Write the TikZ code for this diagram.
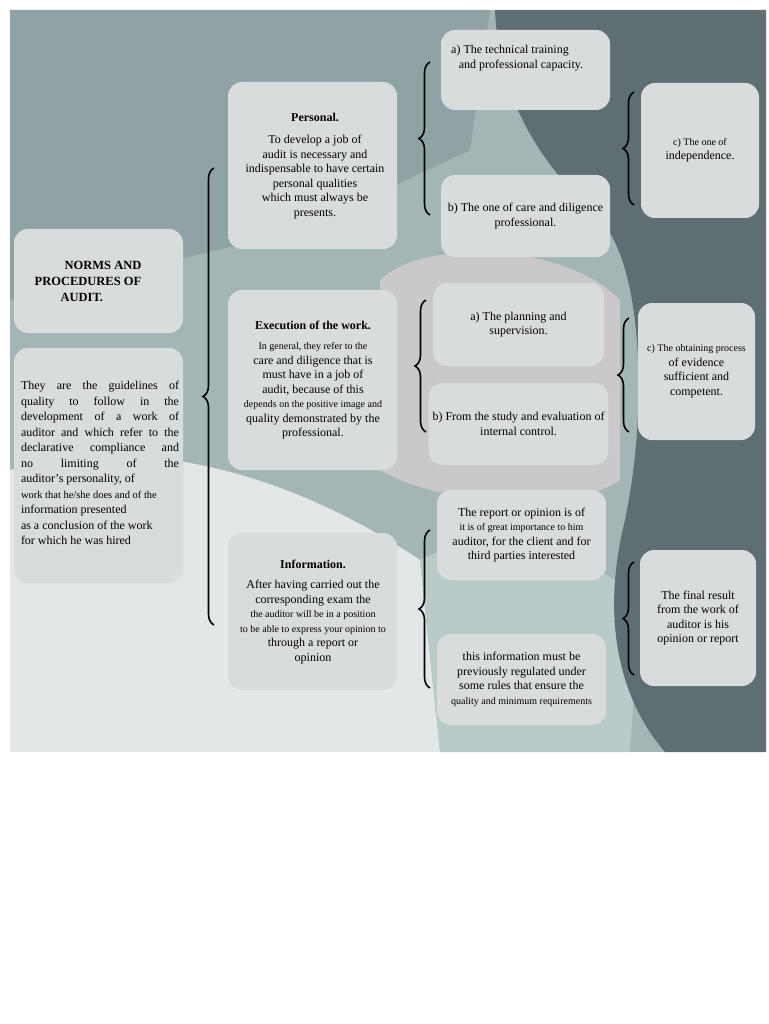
\documentclass[tikz,border=0pt]{standalone}
\usepackage{fontspec}
\setmainfont{Liberation Serif}
\usetikzlibrary{decorations.pathreplacing}
\definecolor{bgbase}{HTML}{A3B6B5}
\definecolor{bgdark}{HTML}{5E6E73}
\definecolor{bgmid}{HTML}{8FA3A5}
\definecolor{bglight}{HTML}{E3E7E8}
\definecolor{bgpink}{HTML}{CBC8CB}
\definecolor{bgteal}{HTML}{B9CBC8}
\definecolor{boxfill}{HTML}{D9DCDD}
\tikzset{
  card/.style={fill=boxfill, rounded corners=14pt, draw=none, align=center, font=\fontsize{12}{14.5}\selectfont, inner sep=4pt},
  txt/.style={align=center, font=\fontsize{12}{14.5}\selectfont},
  brc/.style={draw=black, line width=1.6pt, decorate, decoration={brace, amplitude=11pt}}
}
\newcommand{\sm}{\fontsize{10}{14.5}\selectfont}
\begin{document}
\begin{tikzpicture}[x=1pt,y=-1pt]
\useasboundingbox (0,0) rectangle (768,1024);
\fill[white] (0,0) rectangle (768,1024);
% background
\fill[bgbase] (10,10) rectangle (766,752);
\fill[bgmid] (10,10) -- (490,10) -- (470,150) -- (300,230) -- (10,300) -- cycle;
\fill[bglight] (10,470) .. controls (150,430) and (300,480) .. (420,560) -- (440,752) -- (10,752) -- cycle;
\fill[bgpink] (380,280) .. controls (420,240) and (560,240) .. (620,300) -- (620,480) .. controls (560,520) and (430,500) .. (380,470) -- cycle;
\fill[bgteal] (420,560) .. controls (500,520) and (600,560) .. (640,600) -- (630,752) -- (440,752) -- cycle;
\fill[bgdark] (495,10) -- (766,10) -- (766,752) -- (665,752) .. controls (620,700) and (600,620) .. (625,520) .. controls (650,400) and (640,260) .. (600,220) .. controls (560,180) and (500,120) .. (495,10) -- cycle;
% boxes
\node[card, minimum width=169pt, minimum height=104pt] (title) at (98.5,281) {};
\node[font=\fontsize{12.5}{16}\selectfont\bfseries, align=left] at (88,281) {\hspace*{30pt}NORMS AND\\PROCEDURES OF\\\hspace*{26pt}AUDIT.};
\node[card, minimum width=169pt, minimum height=235pt] (desc) at (98.5,465.5) {};
\node[text width=158pt, align=justify, font=\fontsize{12}{15.5}\selectfont] at (100,463) {They are the guidelines of\linebreak quality to follow in the\linebreak development of a work of\linebreak auditor and which refer to the\linebreak declarative compliance and\linebreak no limiting of the\linebreak auditor's personality, of\\ {\fontsize{10.5}{15.5}\selectfont work that he/she does and of the}\\ information presented\\ as a conclusion of the work\\ for which he was hired};
\node[card, minimum width=169pt, minimum height=167pt] (pers) at (312.5,165.5) {};
\node[txt] at (315,166) {\textbf{Personal.}\\[8pt]To develop a job of\\audit is necessary and\\indispensable to have certain\\personal qualities\\which must always be\\presents.};
\node[card, minimum width=169pt, minimum height=180pt] (exec) at (312.5,380) {};
\node[txt] at (313,380) {\textbf{Execution of the work.}\\[6pt]{\sm In general, they refer to the}\\care and diligence that is\\must have in a job of\\audit, because of this\\{\sm depends on the positive image and}\\quality demonstrated by the\\professional.};
\node[card, minimum width=169pt, minimum height=157pt] (info) at (312.5,611.5) {};
\node[txt] at (313,612) {\textbf{Information.}\\[6pt]After having carried out the\\corresponding exam the\\{\sm the auditor will be in a position}\\{\sm to be able to express your opinion to}\\through a report or\\opinion};
\node[card, minimum width=169pt, minimum height=80pt] (pa) at (525.5,70) {};
\node[txt] at (510,58) {a) The technical training\\\hspace*{22pt}and professional capacity.};
\node[card, minimum width=169pt, minimum height=82pt] (pb) at (525.5,216) {b) The one of care and diligence\\professional.};
\node[card, minimum width=118pt, minimum height=135pt] (pc) at (700,150.5) {{\sm c) The one of}\\independence.};
\node[card, minimum width=171pt, minimum height=83pt] (ea) at (518.5,324.5) {a) The planning and\\supervision.};
\node[card, minimum width=171pt, minimum height=82pt] (eb) at (518.5,424) {b) From the study and evaluation of\\internal control.};
\node[card, minimum width=117pt, minimum height=137pt] (ec) at (696.5,371.5) {{\sm c) The obtaining process}\\of evidence\\sufficient and\\competent.};
\node[card, minimum width=169pt, minimum height=90pt] (ia) at (521.5,535) {The report or opinion is of\\{\sm it is of great importance to him}\\auditor, for the client and for\\third parties interested};
\node[card, minimum width=169pt, minimum height=91pt] (ib) at (521.5,679.5) {this information must be\\previously regulated under\\some rules that ensure the\\{\sm quality and minimum requirements}};
\node[card, minimum width=116pt, minimum height=136pt] (fin) at (698,618) {The final result\\from the work of\\auditor is his\\opinion or report};
% braces
\coordinate (b1s) at (214,625); \coordinate (b1e) at (214,168);
\draw[brc] (b1s) -- (b1e);
\coordinate (b2s) at (430,215); \coordinate (b2e) at (430,62);
\draw[brc] (b2s) -- (b2e);
\coordinate (b3s) at (634,205); \coordinate (b3e) at (634,92);
\draw[brc] (b3s) -- (b3e);
\coordinate (b4s) at (426,432); \coordinate (b4e) at (426,300);
\draw[brc] (b4s) -- (b4e);
\coordinate (b5s) at (629,432); \coordinate (b5e) at (629,318);
\draw[brc] (b5s) -- (b5e);
\coordinate (b6s) at (430,688); \coordinate (b6e) at (430,530);
\draw[brc] (b6s) -- (b6e);
\coordinate (b7s) at (634,675); \coordinate (b7e) at (634,562);
\draw[brc] (b7s) -- (b7e);
\end{tikzpicture}
\end{document}
